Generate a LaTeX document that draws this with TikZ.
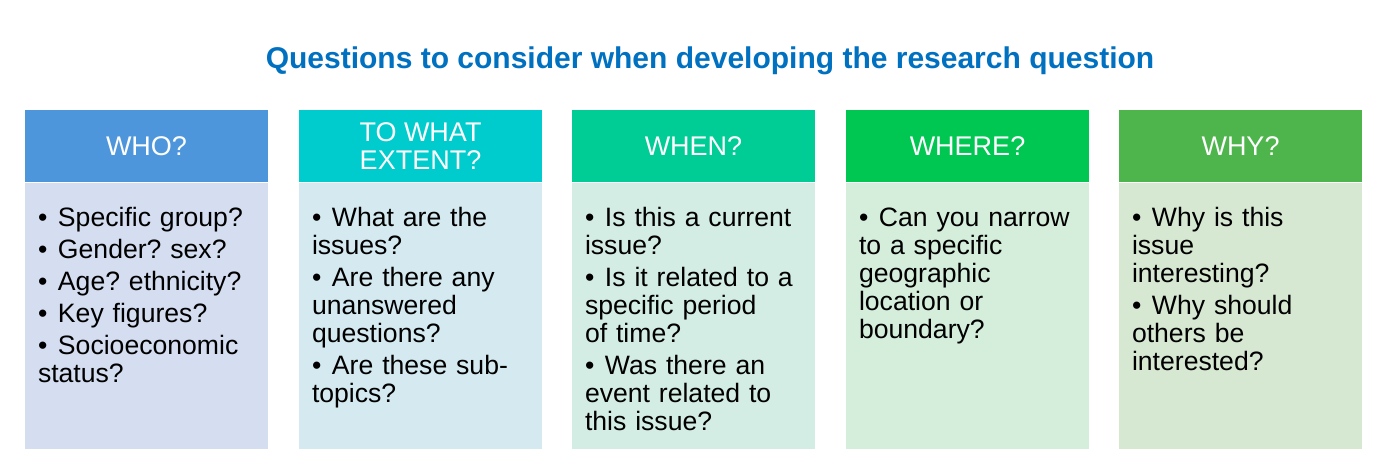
\documentclass[tikz,border=0pt]{standalone}
\usepackage{fontspec}
\setmainfont{Liberation Sans}
\usetikzlibrary{positioning}
\definecolor{titleblue}{RGB}{0,112,192}
\definecolor{hdA}{RGB}{78,150,220}\definecolor{bdA}{RGB}{212,222,240}
\definecolor{hdB}{RGB}{0,204,206}\definecolor{bdB}{RGB}{212,234,240}
\definecolor{hdC}{RGB}{0,204,150}\definecolor{bdC}{RGB}{212,237,228}
\definecolor{hdD}{RGB}{0,198,82}\definecolor{bdD}{RGB}{212,238,219}
\definecolor{hdE}{RGB}{78,180,76}\definecolor{bdE}{RGB}{214,232,210}
\newcommand\itm{\par\vspace{2pt}\hangindent=10pt\hangafter=1\noindent\makebox[10pt][l]{\textbullet}}
\begin{document}
\begin{tikzpicture}[x=0.5pt,y=-0.5pt,
    head/.style={minimum width=121.5pt, minimum height=36pt, text=white, font=\fontsize{13.5}{14}\selectfont, align=center, inner sep=0pt},
    body/.style={minimum width=121.5pt, minimum height=133pt, anchor=north, inner sep=0pt},
    items/.style={anchor=north west, text width=114pt, font=\fontsize{13.3}{14}\selectfont\frenchspacing\raggedright, inner sep=0pt},
  ]
  \useasboundingbox (0,0) rectangle (1386,474);
  \node[text=titleblue, font=\bfseries\fontsize{15}{17}\selectfont] (title) at (710,61) {Questions to consider when developing the research question};
  \foreach \x/\c/\h/\t [count=\i] in {
      146.5/A/WHO?/{\itm Specific group?\itm Gender? sex?\itm Age? ethnicity?\itm Key figures?\itm Socioeconomic\\status?},
      420.5/B/{TO WHAT\\EXTENT?}/{\itm What are the\\issues?\itm Are there any\\unanswered\\questions?\itm Are these sub-\\topics?},
      693.5/C/WHEN?/{\itm Is this a current\\issue?\itm Is it related to a\\specific period\\of time?\itm Was there an\\event related to\\this issue?},
      967.5/D/WHERE?/{\itm Can you narrow\\to a specific\\geographic\\location or\\boundary?},
      1240.5/E/WHY?/{\itm Why is this\\issue\\interesting?\itm Why should\\others be\\interested?}} {
    \node[head, fill=hd\c] (head\i) at (\x,146) {\h};
    \node[body, fill=bd\c, below=0pt of head\i] (body\i) {};
    \node[items] (items\i) at ([xshift=6.5pt,yshift=-6pt]body\i.north west) {\t};
  }
\end{tikzpicture}
\end{document}
